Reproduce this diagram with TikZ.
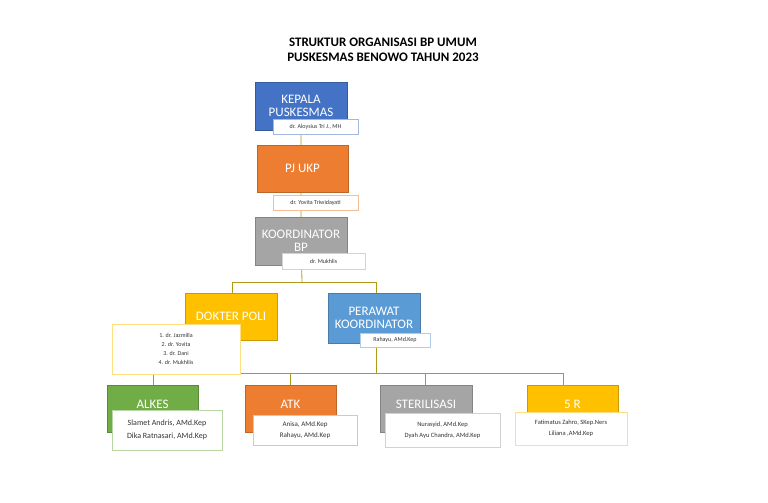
\documentclass[tikz,border=0pt]{standalone}
\usepackage{fontspec}
\setmainfont{Carlito}
\begin{document}
\begin{tikzpicture}[x=1pt,y=-1pt,
 bx/.style={draw=#1!80!black,fill=#1,text=white,font=\fontsize{13}{13}\selectfont,align=center,inner sep=0pt},
 bt/.style={text=white,font=\fontsize{13}{13}\selectfont,inner sep=0pt},
 nm/.style={draw=#1!50,fill=white,text=black!80,font=\fontsize{6}{7}\selectfont,align=center,inner sep=1pt},
 ln/.style={draw=brown!50!yellow!80!black,line width=0.8pt}]
\definecolor{cb}{HTML}{4472C4}\definecolor{co}{HTML}{ED7D31}\definecolor{cg}{HTML}{A5A5A5}
\definecolor{cy}{HTML}{FFC000}\definecolor{cl}{HTML}{5B9BD5}\definecolor{cn}{HTML}{70AD47}
\useasboundingbox (0,0) rectangle (768,503);
\node[font=\bfseries\fontsize{13}{15}\selectfont,align=center] (t) at (383,50) {STRUKTUR ORGANISASI BP UMUM\\PUSKESMAS BENOWO TAHUN 2023};
\coordinate (h1) at (302,282); \coordinate (hL) at (232,282); \coordinate (hR) at (376,282);
\coordinate (b0) at (376,373); \coordinate (bL) at (153,373); \coordinate (bR) at (563,373);
\draw[ln] (301,106) -- (301,241) -- (h1);
\draw[ln] (hL) -- (hR); \draw[ln] (hL) -- (232,300); \draw[ln] (hR) -- (b0);
\draw[ln] (bL) -- (bR); \draw[ln] (bL)--(153,395); \draw[ln] (290,373)--(290,395);
\draw[ln] (425,373)--(425,395); \draw[ln] (bR)--(563,395);
\node[bx=cb,minimum width=92,minimum height=48] (k) at (301,106) {KEPALA\\PUSKESMAS};
\node[nm=cb,minimum width=85,minimum height=15] (kn) at (315.5,126.5) {dr. Aloysius Tri J., MH};
\node[bx=co,minimum width=91,minimum height=47] (p) at (302.5,168.5) {PJ UKP};
\node[nm=co,minimum width=85,minimum height=15] (pn) at (315.5,202.5) {dr. Yovita Triwidayati};
\node[bx=cg,minimum width=92,minimum height=48] (kb) at (301,241) {KOORDINATOR\\BP};
\node[nm=cg,minimum width=83,minimum height=16] (kbn) at (323.5,261) {dr. Mukhlis};
\node[bx=cy,minimum width=92,minimum height=47] (d) at (231,316.5) {DOKTER POLI};
\node[nm=cy,minimum width=128,minimum height=50,font=\fontsize{6}{9}\selectfont] (dn) at (176,349) {1. dr. Jazmilla\\2. dr. Yovita\\3. dr. Dani\\4. dr. Mukhliis};
\node[bx=cl,minimum width=92,minimum height=50] (pr) at (374,318) {PERAWAT\\KOORDINATOR};
\node[nm=cl,minimum width=70,minimum height=14] (prn) at (395,340) {Rahayu, AMd.Kep};
\node[bx=cn,minimum width=91,minimum height=47] (a) at (152.5,408.5) {};
\node[bt] (at) at (152.5,404) {ALKES};
\node[nm=cn,minimum width=110,minimum height=40,font=\fontsize{8}{13}\selectfont] (an) at (167,430) {Slamet Andris, AMd.Kep\\Dika Ratnasari, AMd.Kep};
\node[bx=co,minimum width=91,minimum height=47] (atk) at (290.5,408.5) {};
\node[bt] (atkt) at (290.5,404) {ATK};
\node[nm=co,minimum width=104,minimum height=30,font=\fontsize{7}{11}\selectfont] (atkn) at (305,430) {Anisa, AMd.Kep\\Rahayu, AMd.Kep};
\node[bx=cg,minimum width=92,minimum height=47] (s) at (426,408.5) {};
\node[bt] (st) at (426,404) {STERILISASI};
\node[nm=cg,minimum width=115,minimum height=34,font=\fontsize{6.5}{11}\selectfont] (sn) at (442.5,430) {Nurasyid, AMd.Kep\\Dyah Ayu Chandra, AMd.Kep};
\node[bx=cy,minimum width=91,minimum height=47] (r) at (572.5,408.5) {};
\node[bt] (rt) at (572.5,404) {5 R};
\node[nm=cy,minimum width=112,minimum height=33,font=\fontsize{6.5}{11}\selectfont] (rn) at (571,428.5) {Fatimatus Zahro, SKep.Ners\\Liliana ,AMd.Kep};
\end{tikzpicture}
\end{document}
